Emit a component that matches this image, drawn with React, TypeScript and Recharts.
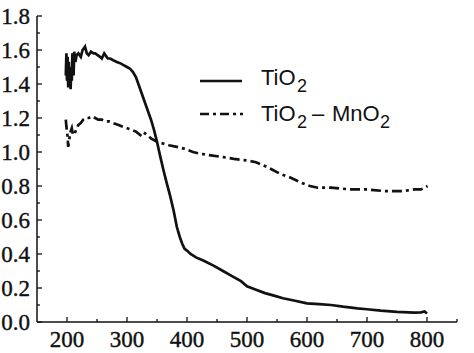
import { LineChart, Line, XAxis, YAxis, Legend } from 'recharts';

const INK = '#111111';
const TICK_FONT = 'Liberation Serif, DejaVu Serif, serif';
const LEGEND_FONT = 'Liberation Sans, Arial, sans-serif';

// TiO2 absorbance
const tio2Wavelength = [
  198, 199, 200, 201, 202, 203, 204, 205, 206, 207, 208, 209, 210, 211, 212, 214, 216, 219, 223, 226, 230, 233, 236,
  240, 244, 247, 251, 255, 258, 262, 264, 268, 272, 277, 283, 290, 295, 300, 305, 310, 315, 320, 325, 330, 335, 340,
  345, 350, 355, 361, 366, 372, 378, 383, 388, 392, 396, 400, 406, 415, 428, 445, 460, 475, 490, 500, 515, 530, 545,
  560, 580, 600, 620, 640, 660, 684, 700, 723, 750, 779, 790, 796, 800,
];
const tio2Absorbance = [
  1.45, 1.58, 1.42, 1.56, 1.38, 1.53, 1.40, 1.50, 1.37, 1.47, 1.42, 1.58, 1.50, 1.45, 1.59, 1.53, 1.57, 1.58, 1.56,
  1.60, 1.62, 1.58, 1.57, 1.59, 1.58, 1.58, 1.57, 1.56, 1.55, 1.58, 1.57, 1.55, 1.55, 1.54, 1.53, 1.52, 1.51, 1.50,
  1.49, 1.47, 1.44, 1.39, 1.34, 1.29, 1.24, 1.19, 1.13, 1.06, 0.98, 0.89, 0.82, 0.74, 0.65, 0.56, 0.50, 0.46, 0.43,
  0.42, 0.40, 0.38, 0.36, 0.33, 0.30, 0.27, 0.24, 0.21, 0.19, 0.17, 0.155, 0.14, 0.125, 0.11, 0.105, 0.1, 0.09, 0.08,
  0.075, 0.067, 0.06, 0.055, 0.057, 0.062, 0.05,
];

// TiO2–MnO2 absorbance
const mixWavelength = [
  198, 199, 201, 202, 204, 206, 208, 210, 213, 216, 219, 223, 227, 231, 236, 242, 247, 252, 258, 264, 270, 277, 285,
  292, 300, 308, 315, 322, 326, 330, 334, 340, 350, 360, 370, 383, 395, 410, 422, 440, 460, 478, 500, 515, 528, 540,
  556, 572, 590, 605, 618, 640, 673, 700, 729, 760, 779, 790, 796, 801,
];
const mixAbsorbance = [
  1.19, 1.15, 1.09, 1.03, 1.08, 1.12, 1.14, 1.10, 1.11, 1.14, 1.16, 1.17, 1.19, 1.20, 1.20, 1.21, 1.20, 1.19, 1.19,
  1.18, 1.18, 1.17, 1.16, 1.15, 1.14, 1.13, 1.12, 1.10, 1.09, 1.11, 1.10, 1.08, 1.06, 1.05, 1.04, 1.03, 1.02, 1.00,
  0.99, 0.98, 0.97, 0.96, 0.95, 0.94, 0.92, 0.90, 0.87, 0.85, 0.82, 0.80, 0.79, 0.79, 0.78, 0.78, 0.77, 0.77, 0.78,
  0.78, 0.79, 0.80,
];

const xTicks = [200, 250, 300, 350, 400, 450, 500, 550, 600, 650, 700, 750, 800, 850];
const yTicks = [0, 0.1, 0.2, 0.3, 0.4, 0.5, 0.6, 0.7, 0.8, 0.9, 1.0, 1.1, 1.2, 1.3, 1.4, 1.5, 1.6, 1.7, 1.8];

const tio2Data = tio2Wavelength.map((x, i) => ({ x, y: tio2Absorbance[i] }));
const mixData = mixWavelength.map((x, i) => ({ x, y: mixAbsorbance[i] }));

function XTick(props: any) {
  const { x, y, payload } = props;
  const major = payload.value % 100 === 0;
  return (
    <g>
      <line x1={x} x2={x} y1={y} y2={y - (major ? 5 : 3)} stroke={INK} strokeWidth={1.3} />
      {major && (
        <text
          x={x}
          y={y + 25}
          textAnchor="middle"
          fontFamily={TICK_FONT}
          fontSize={23}
          fill={INK}
          stroke={INK}
          strokeWidth={0.4}
        >
          {String(payload.value)}
        </text>
      )}
    </g>
  );
}

function YTick(props: any) {
  const { x, y, payload } = props;
  const major = Math.round(payload.value * 10) % 2 === 0;
  return (
    <g>
      <line x1={x} x2={x + (major ? 5 : 3)} y1={y} y2={y} stroke={INK} strokeWidth={1.3} />
      {major && (
        <text
          x={x - 7}
          y={y + 8}
          textAnchor="end"
          fontFamily={TICK_FONT}
          fontSize={23}
          fill={INK}
          stroke={INK}
          strokeWidth={0.4}
        >
          {payload.value.toFixed(1)}
        </text>
      )}
    </g>
  );
}

function LegendBox() {
  return (
    <svg width={220} height={75} style={{ display: 'block' }}>
      <line x1={5} x2={47} y1={21} y2={21} stroke={INK} strokeWidth={2.5} />
      <text y={24.5} fontFamily={LEGEND_FONT} fontSize={22} fill={INK}>
        <tspan x={66}>TiO</tspan>
        <tspan x={102} dy={7} fontSize={18}>2</tspan>
      </text>
      <line x1={5} x2={48} y1={54} y2={54} stroke={INK} strokeWidth={2.5} strokeDasharray="9 4 3 4" />
      <text y={61} fontFamily={LEGEND_FONT} fontSize={22} fill={INK}>
        <tspan x={66}>TiO</tspan>
        <tspan x={102} dy={7} fontSize={18}>2</tspan>
        <tspan x={117} dy={-7}>–</tspan>
        <tspan x={137}>MnO</tspan>
        <tspan x={185} dy={7} fontSize={18}>2</tspan>
      </text>
    </svg>
  );
}

export default function App() {
  return (
    <div style={{ position: 'absolute', left: 0, top: 0, background: '#fff' }}>
      <LineChart width={474} height={353} margin={{ top: 16, right: 17, bottom: 0, left: 0 }}>
        <XAxis
          type="number"
          dataKey="x"
          domain={[150, 850]}
          ticks={xTicks}
          allowDataOverflow
          height={31}
          tickSize={0}
          tickMargin={0}
          tickLine={false}
          tick={XTick}
          axisLine={{ stroke: INK, strokeWidth: 1.5 }}
          interval={0}
        />
        <YAxis
          type="number"
          dataKey="y"
          domain={[0, 1.8]}
          ticks={yTicks}
          allowDataOverflow
          width={37}
          tickSize={0}
          tickMargin={0}
          tickLine={false}
          tick={YTick}
          axisLine={{ stroke: INK, strokeWidth: 1.5 }}
          interval={0}
        />
        <Legend
          layout="vertical"
          align="center"
          verticalAlign="middle"
          wrapperStyle={{ position: 'absolute', left: 195, top: 60, width: 220 }}
          content={() => <LegendBox />}
        />
        <Line
          data={tio2Data}
          type="linear"
          dataKey="y"
          stroke={INK}
          strokeWidth={2.7}
          dot={false}
          isAnimationActive={false}
        />
        <Line
          data={mixData}
          type="linear"
          dataKey="y"
          stroke={INK}
          strokeWidth={2.7}
          strokeDasharray="10 4 3 4"
          dot={false}
          isAnimationActive={false}
        />
      </LineChart>
    </div>
  );
}
